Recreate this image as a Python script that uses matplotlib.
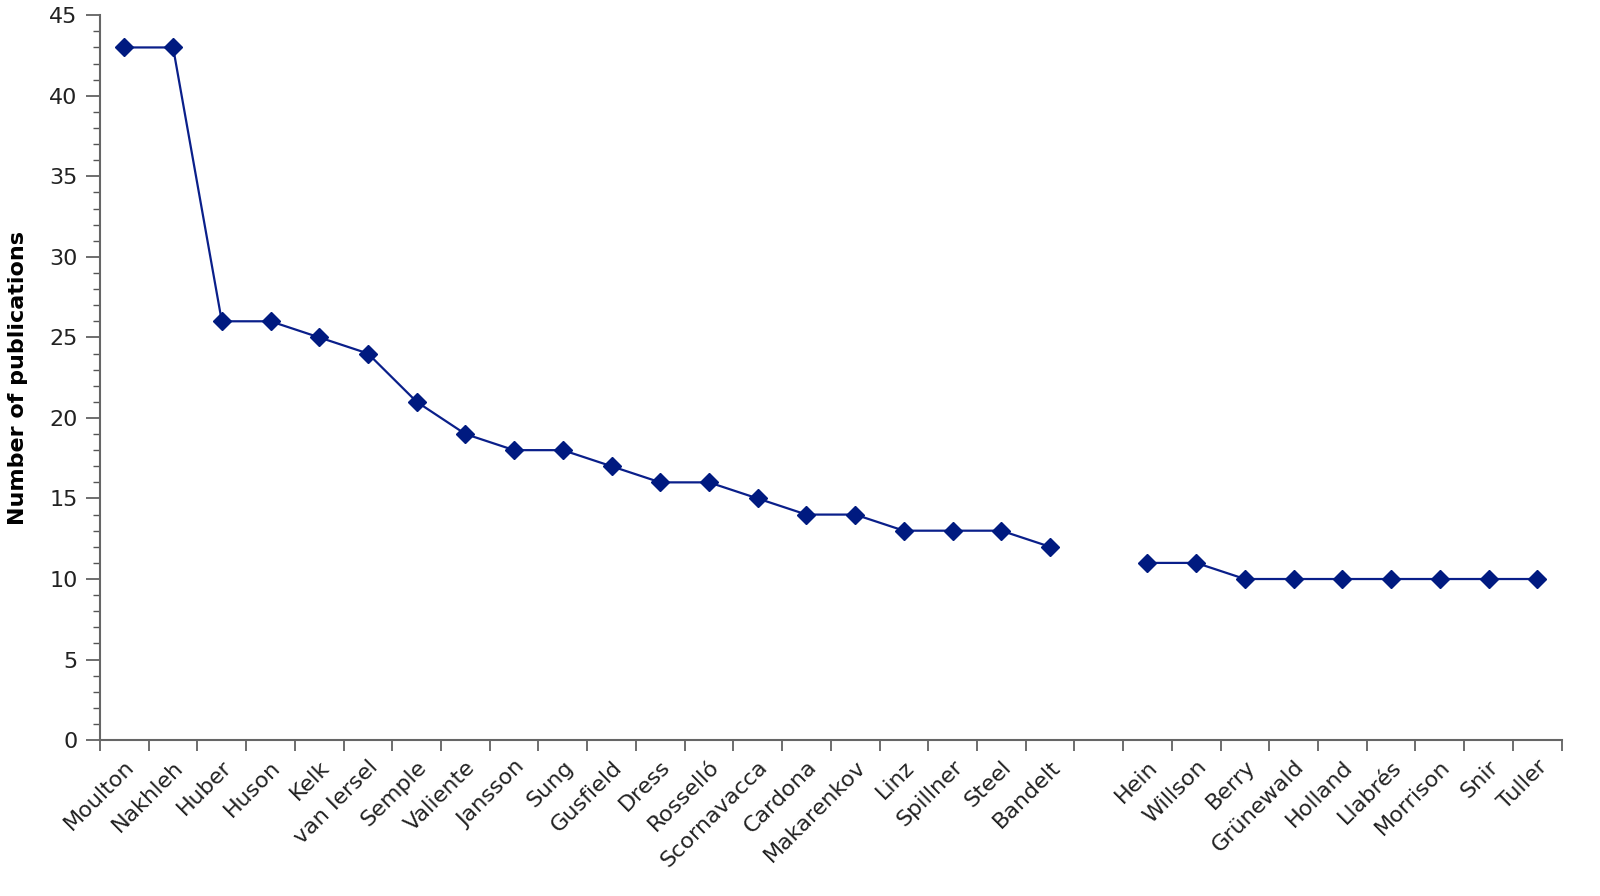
import numpy as np
import matplotlib.pyplot as plt
from matplotlib.ticker import MultipleLocator

# authors (empty slot between Bandelt and Hein)
authors = ['Moulton', 'Nakhleh', 'Huber', 'Huson', 'Kelk', 'van Iersel', 'Semple',
           'Valiente', 'Jansson', 'Sung', 'Gusfield', 'Dress', 'Rosselló',
           'Scornavacca', 'Cardona', 'Makarenkov', 'Linz', 'Spillner', 'Steel',
           'Bandelt', '', 'Hein', 'Willson', 'Berry', 'Grünewald', 'Holland',
           'Llabrés', 'Morrison', 'Snir', 'Tuller']
pubs = [43, 43, 26, 26, 25, 24, 21, 19, 18, 18, 17, 16, 16, 15, 14, 14, 13, 13, 13,
        12, np.nan, 11, 11, 10, 10, 10, 10, 10, 10, 10]

plt.rcParams['font.family'] = ['DejaVu Sans']

fig = plt.figure(figsize=(16, 8.96), dpi=100)
ax = fig.add_axes([0.0625, 0.174, 0.9135, 0.809])

x = np.arange(len(authors))
ax.plot(x, pubs, color='#0a1f8a', linewidth=1.6, marker='D', markersize=9,
        markerfacecolor='#001a80', markeredgecolor='#001a80')

ax.set_xlim(-0.5, len(authors) - 0.5)
ax.set_ylim(0, 45)
ax.yaxis.set_major_locator(MultipleLocator(5))
ax.yaxis.set_minor_locator(MultipleLocator(1))

# category labels centred, ticks between categories
ax.set_xticks(x)
ax.set_xticklabels(authors, rotation=45, ha='right', rotation_mode='anchor', fontsize=16,
                   color='#222222')
ax.set_xticks(np.arange(len(authors) + 1) - 0.5, minor=True)
ax.tick_params(axis='x', which='major', length=0, pad=12)
ax.tick_params(axis='x', which='minor', length=8, width=1.2, color='#555555', direction='out')
ax.tick_params(axis='y', which='major', length=10, width=1.2, color='#555555',
               labelsize=16, labelcolor='#222222', pad=6)
ax.tick_params(axis='y', which='minor', length=5, width=1.0, color='#555555')

for side in ['top', 'right']:
    ax.spines[side].set_visible(False)
for side in ['left', 'bottom']:
    ax.spines[side].set_color('#666666')
    ax.spines[side].set_linewidth(1.5)

ax.set_ylabel('Number of publications', fontsize=16, fontweight='bold')
ax.yaxis.set_label_coords(-0.049, 0.5)

fig.savefig('out.png', dpi=100)
